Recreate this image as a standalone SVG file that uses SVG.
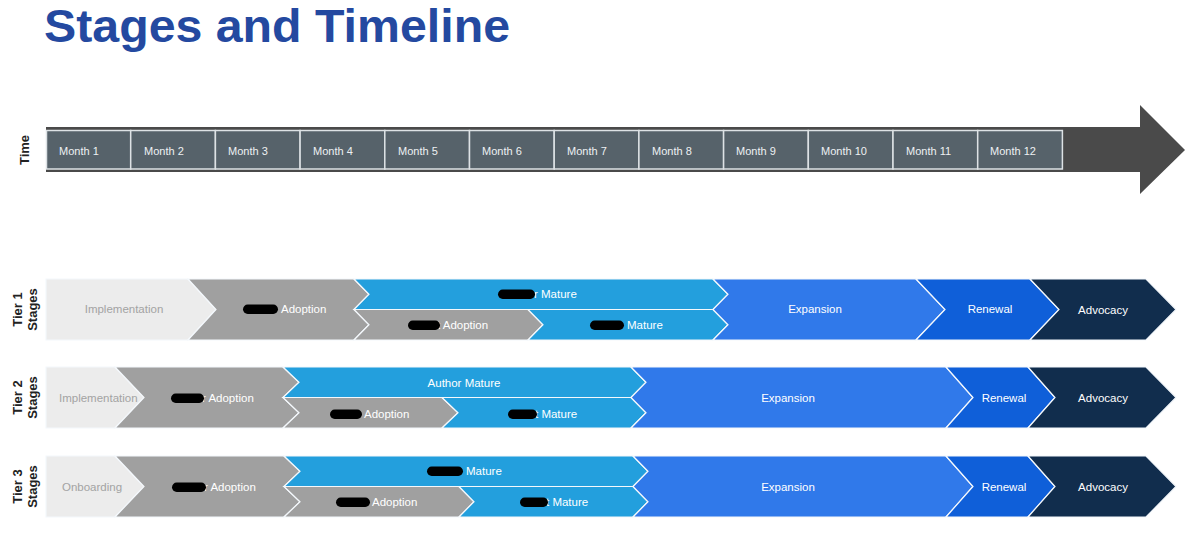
<svg xmlns="http://www.w3.org/2000/svg" width="1194" height="542" viewBox="0 0 1194 542">
<style>
text{font-family:"Liberation Sans",Arial,sans-serif}
.title{font-size:46px;font-weight:bold;fill:#2449a0}
.lbl{font-size:13px;font-weight:bold;fill:#222;text-anchor:middle}
.mon{font-size:11px;fill:#eef1f3}
.cell{fill:#56626a;stroke:#dde2e5;stroke-width:1.5}
.st{stroke:#f4f8fc;stroke-width:1.2;stroke-linejoin:miter}
.impl{fill:#ececec}
.gray{fill:#a0a0a0}
.lb{fill:#239fdd}
.exp{fill:#3079ea}
.ren{fill:#0f5fd9}
.adv{fill:#112d4d}
.t{font-size:11.5px;fill:#fff}
.tg{font-size:11.5px;fill:#a3a3a3}
.c{text-anchor:middle}
.blob{fill:#000}
</style>

<text class="title" x="44" y="42" textLength="466" lengthAdjust="spacingAndGlyphs">Stages and Timeline</text>

<g id="time-label"><text class="lbl" transform="translate(29,150) rotate(-90)">Time</text></g>

<g id="timeline">
<polygon points="46,127 1140,127 1140,105 1185,150 1140,194 1140,172 46,172" fill="#4a4a4a"/>
<g id="months">
<rect class="cell" x="46.5" y="130.5" width="84.2" height="38.5"/>
<rect class="cell" x="130.7" y="130.5" width="84.7" height="38.5"/>
<rect class="cell" x="215.4" y="130.5" width="84.7" height="38.5"/>
<rect class="cell" x="300.1" y="130.5" width="84.7" height="38.5"/>
<rect class="cell" x="384.8" y="130.5" width="84.7" height="38.5"/>
<rect class="cell" x="469.5" y="130.5" width="84.7" height="38.5"/>
<rect class="cell" x="554.2" y="130.5" width="84.7" height="38.5"/>
<rect class="cell" x="638.9" y="130.5" width="84.7" height="38.5"/>
<rect class="cell" x="723.6" y="130.5" width="84.7" height="38.5"/>
<rect class="cell" x="808.3" y="130.5" width="84.7" height="38.5"/>
<rect class="cell" x="893" y="130.5" width="84.7" height="38.5"/>
<rect class="cell" x="977.7" y="130.5" width="84.7" height="38.5"/>
<text class="mon" x="59" y="155">Month 1</text>
<text class="mon" x="144" y="155">Month 2</text>
<text class="mon" x="228" y="155">Month 3</text>
<text class="mon" x="313" y="155">Month 4</text>
<text class="mon" x="398" y="155">Month 5</text>
<text class="mon" x="482" y="155">Month 6</text>
<text class="mon" x="567" y="155">Month 7</text>
<text class="mon" x="652" y="155">Month 8</text>
<text class="mon" x="736" y="155">Month 9</text>
<text class="mon" x="821" y="155">Month 10</text>
<text class="mon" x="906" y="155">Month 11</text>
<text class="mon" x="990" y="155">Month 12</text>
</g>
</g>

<g id="connectors"></g>

<!-- Tier 1 -->
<g id="tier1-label"><text class="lbl" transform="translate(22,309.5) rotate(-90)">Tier 1</text><text class="lbl" transform="translate(37,309.5) rotate(-90)">Stages</text></g>
<g id="t1-implementation"><polygon class="impl st" points="46,279 188,279 216,309.5 188,340 46,340"/><text class="tg c" x="124" y="313">Implementation</text></g>
<g id="t1-adoption"><polygon class="gray st" points="188,279 354,279 369,294.25 354,309.5 369,324.75 354,340 188,340 216,309.5"/><text class="t" x="281" y="313">Adoption</text><rect class="blob" x="243" y="304.5" width="35" height="9.5" rx="4.7"/></g>
<g id="t1-upper-mature"><polygon class="lb st" points="354,279 713,279 728,294.25 713,309.5 354,309.5 369,294.25"/><text class="t" x="534" y="298">r Mature</text><rect class="blob" x="498" y="289.5" width="37" height="9.5" rx="4.7"/></g>
<g id="t1-lower-adoption"><polygon class="gray st" points="354,309.5 528,309.5 543,324.75 528,340 354,340 369,324.75"/><text class="t" x="437" y="329">t Adoption</text><rect class="blob" x="408" y="320.5" width="32" height="9.5" rx="4.7"/></g>
<g id="t1-lower-mature"><polygon class="lb st" points="528,309.5 713,309.5 728,324.75 713,340 528,340 543,324.75"/><text class="t" x="627" y="329">Mature</text><rect class="blob" x="590" y="320.5" width="34" height="9.5" rx="4.7"/></g>
<g id="t1-expansion"><polygon class="exp st" points="713,279 916,279 945,309.5 916,340 713,340 728,324.75 713,309.5 728,294.25"/><text class="t c" x="815" y="313">Expansion</text></g>
<g id="t1-renewal"><polygon class="ren st" points="916,279 1030,279 1059,309.5 1030,340 916,340 945,309.5"/><text class="t c" x="990" y="313">Renewal</text></g>
<g id="t1-advocacy"><polygon class="adv st" points="1030,279 1146,279 1176,309.5 1146,340 1030,340 1059,309.5"/><text class="t c" x="1103" y="314">Advocacy</text></g>

<!-- Tier 2 -->
<g id="tier2-label"><text class="lbl" transform="translate(22,397.5) rotate(-90)">Tier 2</text><text class="lbl" transform="translate(37,397.5) rotate(-90)">Stages</text></g>
<g id="t2-implementation"><polygon class="impl st" points="46,367 115,367 144,397.5 115,428 46,428"/></g>
<g id="t2-adoption"><polygon class="gray st" points="115,367 283,367 299,382.25 283,397.5 299,412.75 283,428 115,428 144,397.5"/><text class="t" x="202" y="402">r Adoption</text><rect class="blob" x="171" y="393.5" width="33" height="9.5" rx="4.7"/></g>
<g id="t2-implementation-text"><text class="tg" x="59" y="402">Implementation</text></g>
<g id="t2-upper-mature"><polygon class="lb st" points="283,367 631,367 646,382.25 631,397.5 283,397.5 299,382.25"/><text class="t c" x="464" y="387">Author Mature</text></g>
<g id="t2-lower-adoption"><polygon class="gray st" points="283,397.5 442,397.5 458,412.75 442,428 283,428 299,412.75"/><text class="t" x="364" y="418">Adoption</text><rect class="blob" x="330" y="409.5" width="32" height="9.5" rx="4.7"/></g>
<g id="t2-lower-mature"><polygon class="lb st" points="442,397.5 631,397.5 646,412.75 631,428 442,428 458,412.75"/><text class="t" x="535" y="418">t Mature</text><rect class="blob" x="508" y="409.5" width="29" height="9.5" rx="4.7"/></g>
<g id="t2-expansion"><polygon class="exp st" points="631,367 946,367 973,397.5 946,428 631,428 646,412.75 631,397.5 646,382.25"/><text class="t c" x="788" y="402">Expansion</text></g>
<g id="t2-renewal"><polygon class="ren st" points="946,367 1028,367 1055,397.5 1028,428 946,428 973,397.5"/><text class="t c" x="1004" y="402">Renewal</text></g>
<g id="t2-advocacy"><polygon class="adv st" points="1028,367 1146,367 1176,397.5 1146,428 1028,428 1055,397.5"/><text class="t c" x="1103" y="402">Advocacy</text></g>

<!-- Tier 3 -->
<g id="tier3-label"><text class="lbl" transform="translate(22,486.5) rotate(-90)">Tier 3</text><text class="lbl" transform="translate(37,486.5) rotate(-90)">Stages</text></g>
<g id="t3-onboarding"><polygon class="impl st" points="46,456 115,456 144,486.5 115,517 46,517"/><text class="tg c" x="92" y="491">Onboarding</text></g>
<g id="t3-adoption"><polygon class="gray st" points="115,456 284,456 300,471.25 284,486.5 300,501.75 284,517 115,517 144,486.5"/><text class="t" x="204" y="491">r Adoption</text><rect class="blob" x="172" y="482.5" width="34" height="9.5" rx="4.7"/></g>
<g id="t3-upper-mature"><polygon class="lb st" points="284,456 633,456 648,471.25 633,486.5 284,486.5 300,471.25"/><text class="t" x="466" y="475">Mature</text><rect class="blob" x="427" y="466.5" width="36" height="9.5" rx="4.7"/></g>
<g id="t3-lower-adoption"><polygon class="gray st" points="284,486.5 459,486.5 474,501.75 459,517 284,517 300,501.75"/><text class="t" x="372" y="506">Adoption</text><rect class="blob" x="336" y="497.5" width="34" height="9.5" rx="4.7"/></g>
<g id="t3-lower-mature"><polygon class="lb st" points="459,486.5 633,486.5 648,501.75 633,517 459,517 474,501.75"/><text class="t" x="546" y="506">t Mature</text><rect class="blob" x="520" y="497.5" width="28" height="9.5" rx="4.7"/></g>
<g id="t3-expansion"><polygon class="exp st" points="633,456 946,456 973,486.5 946,517 633,517 648,501.75 633,486.5 648,471.25"/><text class="t c" x="788" y="491">Expansion</text></g>
<g id="t3-renewal"><polygon class="ren st" points="946,456 1028,456 1055,486.5 1028,517 946,517 973,486.5"/><text class="t c" x="1004" y="491">Renewal</text></g>
<g id="t3-advocacy"><polygon class="adv st" points="1028,456 1146,456 1176,486.5 1146,517 1028,517 1055,486.5"/><text class="t c" x="1103" y="491">Advocacy</text></g>
</svg>
